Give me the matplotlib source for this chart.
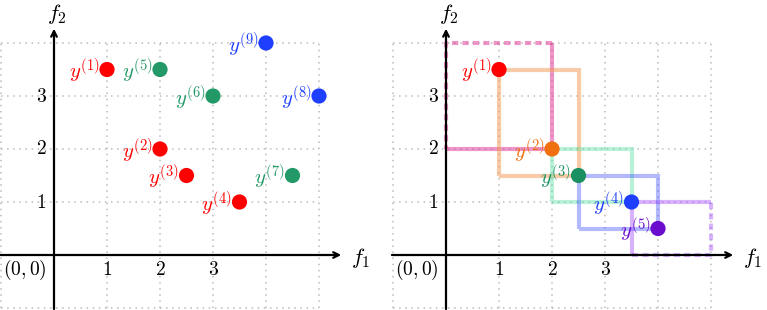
import matplotlib

matplotlib.use("Agg")
import matplotlib.pyplot as plt

plt.rcParams["mathtext.fontset"] = "cm"

# left panel: points and their labels
left_x = [1, 2, 2.5, 3.5, 2, 3, 4.5, 5, 4]
left_y = [3.5, 2, 1.5, 1, 3.5, 3, 1.5, 3, 4]
left_colors = ["#ff0000"] * 4 + ["#229966"] * 3 + ["#1f3fff"] * 2

# right panel: sorted front and the two boundary points
right_x = [1, 2, 2.5, 3.5, 4]
right_y = [3.5, 2, 1.5, 1, 0.5]
right_colors = ["#ff0000", "#f07010", "#1a9060", "#1f3fff", "#6a0dcc"]
box_colors = ["#e0409a", "#f5a060", "#50e0a0", "#4050ff", "#a040ff"]
box_alpha = [0.55, 0.55, 0.4, 0.4, 0.4]
bound_lo = (0, 4)
bound_hi = (5, 0)

ticks = [1, 2, 3]
grid_x = [-1, 0, 1, 2, 3, 4, 5]
grid_y = [-1, 0, 1, 2, 3, 4]

PX = 53.0  # pixels per unit
W, H = 767, 310
FS = 14


def setup(ax, origin_px):
    ax.set_xlim(-origin_px / PX, (383 - origin_px) / PX)
    ax.set_ylim(-55 / PX, (H - 55) / PX)
    ax.axis("off")
    for g in grid_x:
        ax.plot([g, g], [-1, 4], color="#bbbbbb", lw=1.1, ls=(0, (1, 3)), zorder=1)
    for g in grid_y:
        ax.plot([-1, 5], [g, g], color="#bbbbbb", lw=1.1, ls=(0, (1, 3)), zorder=1)
    arrow = dict(arrowstyle="->", color="black", lw=1.6, shrinkA=0, shrinkB=0)
    ax.annotate("", xy=(5.42, 0), xytext=(-1.02, 0), arrowprops=arrow, zorder=3)
    ax.annotate("", xy=(0, 4.27), xytext=(0, -1.02), arrowprops=arrow, zorder=3)
    ax.text(5.78, -0.06, r"$f_1$", fontsize=FS + 2, ha="center", va="center")
    ax.text(0.05, 4.55, r"$f_2$", fontsize=FS + 2, ha="center", va="center")
    for t in ticks:
        ax.text(t, -0.28, f"${t}$", fontsize=FS, ha="center", va="center")
        ax.text(-0.24, t, f"${t}$", fontsize=FS, ha="center", va="center")
    ax.text(-0.55, -0.28, r"$(0,0)$", fontsize=FS, ha="center", va="center")


def label(ax, x, y, i, color):
    ax.text(x - 0.14, y - 0.03, rf"$y^{{({i})}}$", color=color, fontsize=FS + 1,
            ha="right", va="center", zorder=6)


fig = plt.figure(figsize=(W / 100, H / 100), dpi=100)
ax1 = fig.add_axes([0, 0, 383 / W, 1])
ax2 = fig.add_axes([384 / W, 0, 383 / W, 1])

setup(ax1, 54)
ax1.scatter(left_x, left_y, s=120, c=left_colors, zorder=5, linewidths=0)
for i, (x, y, c) in enumerate(zip(left_x, left_y, left_colors), start=1):
    label(ax1, x, y, i, c)

setup(ax2, 62)
pts = [bound_lo] + list(zip(right_x, right_y)) + [bound_hi]
for i in range(1, len(pts) - 1):
    (x0, y1), (x1, y0) = pts[i - 1], pts[i + 1]
    ring = [(x0, y0), (x1, y0), (x1, y1), (x0, y1)]
    # an edge is dashed when it lies on the boundary of the region
    dashed = [y0 == bound_hi[1], x1 == bound_hi[0], y1 == bound_lo[1], x0 == bound_lo[0]]
    # start the ring at a change of style so runs come out whole
    start = next((k for k in range(4) if dashed[k] != dashed[k - 1]), 0)
    runs = []
    for k in range(4):
        e = (start + k) % 4
        a, b = ring[e], ring[(e + 1) % 4]
        if runs and runs[-1][0] == dashed[e]:
            runs[-1][1].append(b)
        else:
            runs.append([dashed[e], [a, b]])
    for is_dashed, path in runs:
        xs, ys = zip(*path)
        ax2.plot(xs, ys, color=box_colors[i - 1], alpha=box_alpha[i - 1], lw=3.0,
                 ls=(0, (1.5, 1.0)) if is_dashed else "-",
                 solid_joinstyle="miter", solid_capstyle="butt", zorder=2)
ax2.scatter(right_x, right_y, s=120, c=right_colors, zorder=5, linewidths=0)
for i, (x, y, c) in enumerate(zip(right_x, right_y, right_colors), start=1):
    label(ax2, x, y, i, c)

fig.savefig("out.png", dpi=100)
